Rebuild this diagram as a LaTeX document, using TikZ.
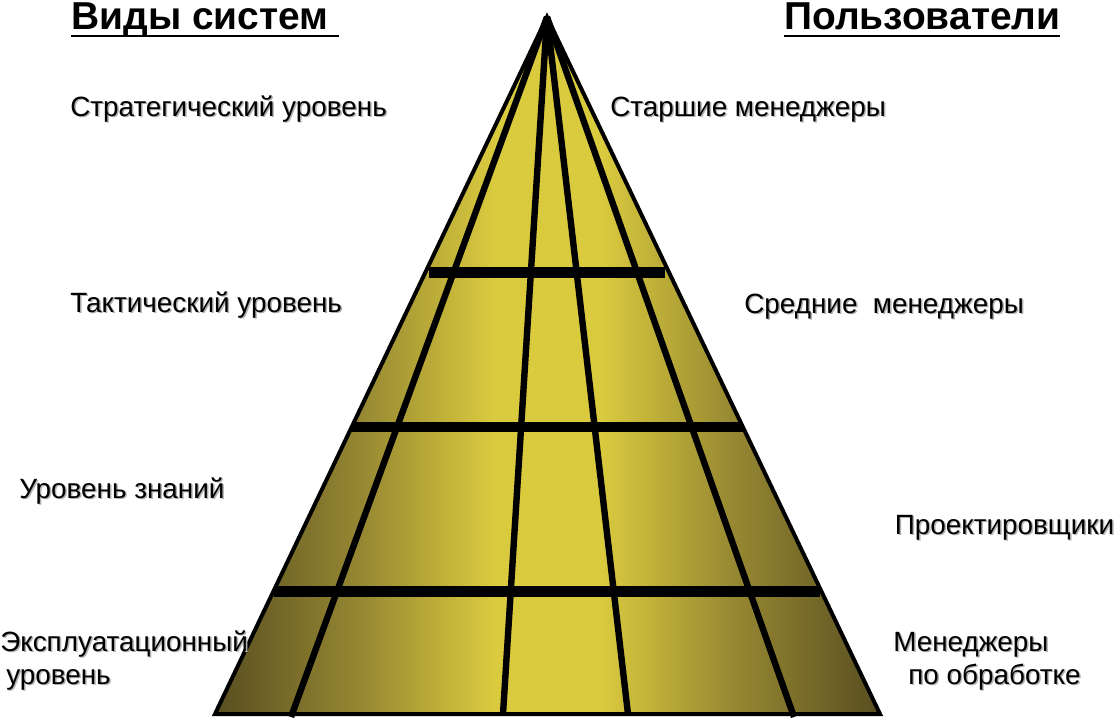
\documentclass[tikz,border=0pt]{standalone}
\usepackage{fontspec}
\setmainfont{Liberation Sans}
\definecolor{pyrdark}{RGB}{88,78,32}
\definecolor{pyrmid}{RGB}{150,136,50}
\definecolor{pyrlight}{RGB}{218,202,62}
\pgfdeclarehorizontalshading{pyrshade}{100bp}{
  color(0bp)=(pyrdark); color(25bp)=(pyrdark); color(36bp)=(pyrmid); color(46bp)=(pyrlight); color(50bp)=(pyrlight); color(54bp)=(pyrlight); color(64bp)=(pyrmid); color(75bp)=(pyrdark); color(100bp)=(pyrdark)}
\newcommand{\shadowlabel}[4]{%
  \node[lab,text=black!30,shift={(1.5,1.5)}] at (#2,#3) {#4};
  \node[lab] (#1) at (#2,#3) {#4};}
\tikzset{
  lab/.style={anchor=base west,inner sep=0pt,font=\fontsize{20.9}{25}\selectfont},
  ttl/.style={anchor=base west,inner sep=0pt,font=\fontsize{29.2}{34}\bfseries\selectfont},
  rib/.style={line width=4.8pt,line cap=butt},
  bar/.style={line width=7.8pt,line cap=butt},
  outline/.style={line width=3pt,line join=miter},
  uline/.style={line width=2.2pt}
}
\begin{document}
\begin{tikzpicture}[x=0.75pt,y=-0.75pt]
\useasboundingbox (0,0) rectangle (1114,718);
\coordinate (apex) at (547,17);
\coordinate (bl) at (215,714);
\coordinate (br) at (880,714);
\coordinate (r1) at (291,717);
\coordinate (r2) at (503,714);
\coordinate (r3) at (628,714);
\coordinate (r4) at (794,717);
\coordinate (h1l) at (429,272.5);
\coordinate (h1r) at (665,272.5);
\coordinate (h2l) at (352,427);
\coordinate (h2r) at (743,427);
\coordinate (h3l) at (274,591.5);
\coordinate (h3r) at (820,591.5);
\shade[shading=pyrshade,shading angle=0] (apex) -- (br) -- (bl) -- cycle;
\draw[rib] (apex) -- (r1);
\draw[rib] (apex) -- (r2);
\draw[rib] (apex) -- (r3);
\draw[rib] (apex) -- (r4);
\draw[outline] (apex) -- (br) -- (bl) -- cycle;
\draw[bar] (h1l) -- (h1r);
\draw[bar] (h2l) -- (h2r);
\draw[bar] (h3l) -- (h3r);
\node[ttl] (tleft) at (71,29.5) {Виды систем};
\node[ttl] (tright) at (784,29.5) {Пользователи};
\coordinate (ul1) at (71,36);
\coordinate (ul2) at (339,36);
\coordinate (ur1) at (784,36);
\coordinate (ur2) at (1060,36);
\draw[uline] (ul1) -- (ul2);
\draw[uline] (ur1) -- (ur2);
\shadowlabel{a}{70}{116}{Стратегический уровень}
\shadowlabel{b}{70}{312}{Тактический уровень}
\shadowlabel{c}{19}{498}{Уровень знаний}
\shadowlabel{d}{0}{651}{Эксплуатационный}
\shadowlabel{e}{6}{684}{уровень}
\shadowlabel{f}{610}{116}{Старшие менеджеры}
\shadowlabel{g}{744}{313}{Средние\ \ менеджеры}
\shadowlabel{h}{894.5}{534}{Проектировщики}
\shadowlabel{i}{893}{651}{Менеджеры}
\shadowlabel{j}{908}{684}{по обработке}
\end{tikzpicture}
\end{document}
